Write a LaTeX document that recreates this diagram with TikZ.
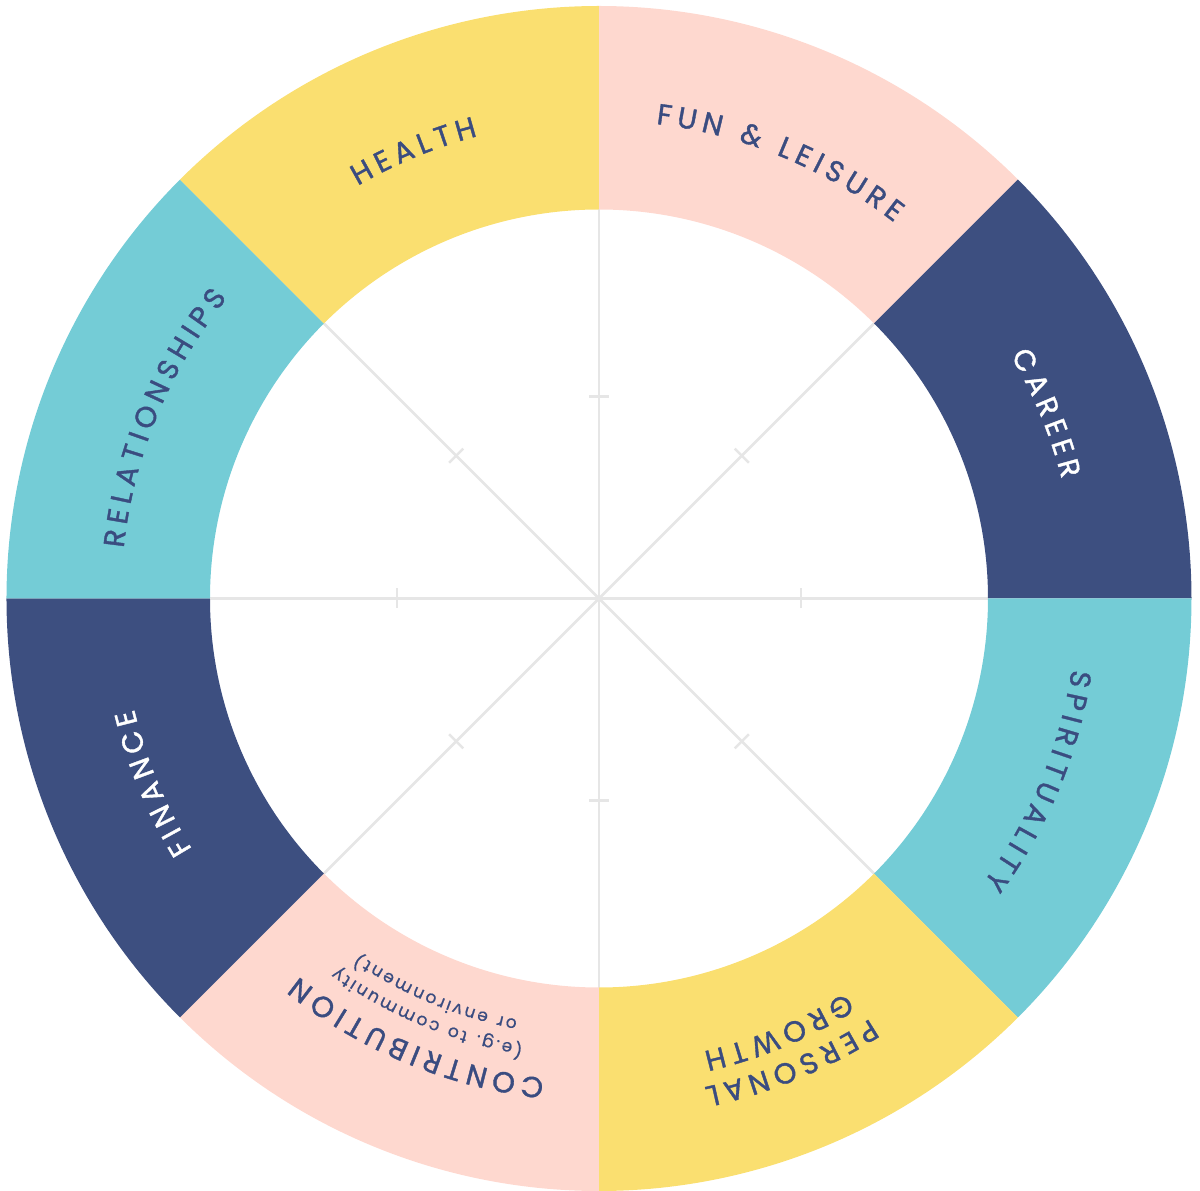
\documentclass[tikz,border=0pt]{standalone}
\usepackage{fontspec}
\setmainfont{Poppins}
\newfontfamily\lblfont[FakeBold=1.3]{Poppins}
\newfontfamily\subfont[FakeBold=0.8]{Poppins}
\definecolor{cYellow}{HTML}{FADF70}
\definecolor{cPink}{HTML}{FED8CF}
\definecolor{cNavy}{HTML}{3D4F80}
\definecolor{cTeal}{HTML}{74CCD6}
\definecolor{cText}{HTML}{3A4C80}
\definecolor{cSpoke}{HTML}{E6E6E6}
\newcommand\lblsize{\lblfont\fontsize{29pt}{32pt}\selectfont}
\newcommand\subsize{\subfont\fontsize{17pt}{20pt}\selectfont}
\newcommand\lpar{(}
\newcommand\rpar{)}
\newdimen\totw
\newdimen\curw
\newdimen\chw
\newdimen\offw
\newcount\chn
\makeatletter
% #1 id, #2 centre angle, #3 radius, #4 font, #5 spacing, #6 characters
\newcommand\prepword[6]{%
  \global\totw=0pt
  \foreach \ch in {#6} {\setbox0=\hbox{#4\ch}\global\advance\totw\wd0 \global\advance\totw#5\relax}%
  \global\advance\totw-#5\relax
  \global\curw=0pt
  \global\chn=0
  \foreach \ch in {#6} {%
    \setbox0=\hbox{#4\ch}\global\chw=\wd0
    \global\advance\chn 1
    \offw=0.5\totw \advance\offw-\curw \advance\offw-0.5\chw
    \pgfmathsetmacro\ang{#2+(\strip@pt\offw)/#3*57.29578}%
    \expandafter\xdef\csname ang@#1@\the\chn\endcsname{\ang}%
    \global\advance\curw\chw \global\advance\curw#5\relax
  }%
}
% #1 id, #2 radius, #3 font, #4 colour, #5 characters
\newcommand\drawword[5]{%
  \foreach \ch [count=\i] in {#5} {%
    \edef\ang{\csname ang@#1@\i\endcsname}%
    \node[rotate=\ang-90, inner sep=0pt, anchor=base, text=#4] (#1-\i) at (\ang:#2) {#3\ch};
  }%
}
\makeatother
\tikzset{spoke/.style={draw=cSpoke, line width=2.5pt}}
\begin{document}
\prepword{hea}{112.5}{478}{\lblsize}{5.5pt}{H,E,A,L,T,H}
\prepword{fun}{67.5}{478}{\lblsize}{5.5pt}{F,U,N,{\ },\&,{\ },L,E,I,S,U,R,E}
\prepword{car}{22.5}{478}{\lblsize}{5.5pt}{C,A,R,E,E,R}
\prepword{spi}{-22.5}{478}{\lblsize}{5.5pt}{S,P,I,R,I,T,U,A,L,I,T,Y}
\prepword{per}{-67.5}{500}{\lblsize}{5.5pt}{P,E,R,S,O,N,A,L}
\prepword{gro}{-67.5}{465}{\lblsize}{5.5pt}{G,R,O,W,T,H}
\prepword{con}{-112.5}{483}{\lblsize}{5.5pt}{C,O,N,T,R,I,B,U,T,I,O,N}
\prepword{eg}{-112.5}{453}{\subsize}{2.5pt}{\lpar,e,.,g,.,{\ },t,o,{\ },c,o,m,m,u,n,i,t,y}
\prepword{env}{-112.5}{429}{\subsize}{2.5pt}{o,r,{\ },e,n,v,i,r,o,n,m,e,n,t,\rpar}
\prepword{fin}{-157.5}{478}{\lblsize}{5.5pt}{F,I,N,A,N,C,E}
\prepword{rel}{157.5}{478}{\lblsize}{5.5pt}{R,E,L,A,T,I,O,N,S,H,I,P,S}
\begin{tikzpicture}[x=1pt,y=1pt]
\useasboundingbox (-599,-592.5) rectangle (601,598.5);
\def\Ro{592.5}
\def\Ri{389}
% spokes and ticks
\foreach \a in {0,45,...,315} {
  \draw[spoke] (0,0) -- (\a:\Ri);
  \draw[spoke, rotate=\a] (202,-10) -- (202,10);
}
% ring sectors
\foreach \a/\c in {45/cPink, 0/cNavy, -45/cTeal, -90/cYellow, -135/cPink, -180/cNavy, 135/cTeal, 90/cYellow} {
  \fill[\c] (\a:\Ri) -- (\a:\Ro) arc[start angle=\a, end angle=\a+45, radius=\Ro]
    -- ({\a+45}:\Ri) arc[start angle=\a+45, end angle=\a, radius=\Ri] -- cycle;
}
% labels
\drawword{hea}{478}{\lblsize}{cText}{H,E,A,L,T,H}
\drawword{fun}{478}{\lblsize}{cText}{F,U,N,{\ },\&,{\ },L,E,I,S,U,R,E}
\drawword{car}{478}{\lblsize}{white}{C,A,R,E,E,R}
\drawword{spi}{478}{\lblsize}{cText}{S,P,I,R,I,T,U,A,L,I,T,Y}
\drawword{per}{500}{\lblsize}{cText}{P,E,R,S,O,N,A,L}
\drawword{gro}{465}{\lblsize}{cText}{G,R,O,W,T,H}
\drawword{con}{483}{\lblsize}{cText}{C,O,N,T,R,I,B,U,T,I,O,N}
\drawword{eg}{453}{\subsize}{cText}{\lpar,e,.,g,.,{\ },t,o,{\ },c,o,m,m,u,n,i,t,y}
\drawword{env}{429}{\subsize}{cText}{o,r,{\ },e,n,v,i,r,o,n,m,e,n,t,\rpar}
\drawword{fin}{478}{\lblsize}{white}{F,I,N,A,N,C,E}
\drawword{rel}{478}{\lblsize}{cText}{R,E,L,A,T,I,O,N,S,H,I,P,S}
\end{tikzpicture}
\end{document}
